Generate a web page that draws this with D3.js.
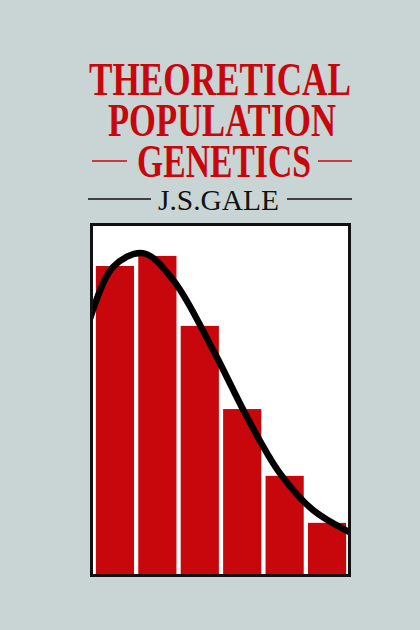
<!DOCTYPE html>
<html><head><meta charset="utf-8">
<script src="https://cdn.jsdelivr.net/npm/d3@7"></script>
<style>body{margin:0;background:#c9d5d5}svg{display:block}</style>
</head><body>
<script>
const titleLines = ["THEORETICAL","POPULATION","GENETICS"];
const author = "J.S.GALE";
const barValues = [88.5, 91.4, 71.3, 47.4, 28.2, 14.7];
const curveX = [-0.15, 0.43, 1.14, 1.86, 2.81, 3.62, 4.4, 5.19, 6.1];
const curveY = [72.1, 88.2, 92.2, 84.5, 64.4, 45.1, 29.0, 18.4, 11.8];

const svg = d3.select("body").append("svg").attr("width",420).attr("height",630);
svg.append("rect").attr("width",420).attr("height",630).attr("fill","#c9d5d5");
const red = "#c8070d";
const tl = [{y:95,x1:89,x2:351},{y:136,x1:108,x2:336},{y:177,x1:137,x2:311}];
titleLines.forEach((t,i)=>{
  svg.append("text").attr("x",tl[i].x1).attr("y",tl[i].y).attr("textLength",tl[i].x2-tl[i].x1)
   .attr("lengthAdjust","spacingAndGlyphs").attr("font-family","Liberation Serif").attr("font-weight","bold")
   .attr("font-size",46).attr("fill",red).text(t);
});
svg.append("line").attr("x1",92).attr("x2",127).attr("y1",161).attr("y2",161).attr("stroke",red).attr("stroke-width",1.6);
svg.append("line").attr("x1",318).attr("x2",352).attr("y1",161).attr("y2",161).attr("stroke",red).attr("stroke-width",1.6);
svg.append("text").attr("x",158).attr("y",210).attr("textLength",121).attr("lengthAdjust","spacingAndGlyphs")
  .attr("font-family","Liberation Serif").attr("font-size",30).attr("fill","#111").text(author);
svg.append("line").attr("x1",88).attr("x2",151).attr("y1",199).attr("y2",199).attr("stroke","#111").attr("stroke-width",1.6);
svg.append("line").attr("x1",287).attr("x2",352).attr("y1",199).attr("y2",199).attr("stroke","#111").attr("stroke-width",1.6);

// chart
svg.append("rect").attr("x",91.5).attr("y",224.5).attr("width",258).attr("height",351).attr("fill","#fff").attr("stroke","#111").attr("stroke-width",3);
const x = d3.scaleBand().domain(d3.range(barValues.length)).range([95,347]).paddingInner(0.1).paddingOuter(0.02);
const y = d3.scaleLinear().domain([0,100]).range([574,226]);
const g = svg.append("g");
g.selectAll("rect").data(barValues).join("rect")
  .attr("x",(d,i)=>x(i)).attr("width",x.bandwidth()).attr("y",d=>y(d)).attr("height",d=>y(0)-y(d)).attr("fill",red);
const cx = d3.scaleLinear().domain([0,6]).range([95,347]);
svg.append("clipPath").attr("id","c").append("rect").attr("x",93).attr("y",226).attr("width",255).attr("height",348);
svg.append("path").attr("clip-path","url(#c)")
  .datum(curveX.map((v,i)=>[v,curveY[i]]))
  .attr("d",d3.line().x(d=>cx(d[0])).y(d=>y(d[1])).curve(d3.curveCatmullRom))
  .attr("fill","none").attr("stroke","#000").attr("stroke-width",6.5).attr("stroke-linecap","round");
</script>
</body></html>
